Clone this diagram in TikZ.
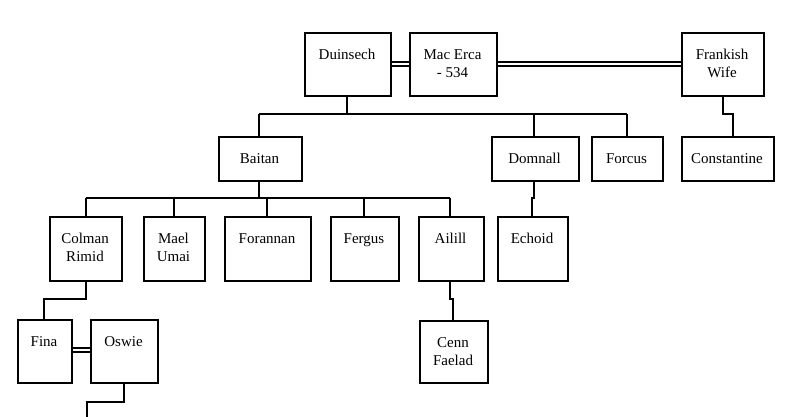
\documentclass[tikz,border=0pt]{standalone}
\usepackage{fontspec}
\setmainfont{Liberation Serif}
\tikzset{bx/.style={draw,line width=1.6pt,rectangle,inner sep=0pt},
 lab/.style={anchor=north,align=center,inner sep=0pt,font=\fontsize{15}{18}\selectfont},
 ln/.style={line width=1.6pt}}
\newcommand{\pbox}[6]{%
 \node[bx,minimum width=#4-#2,minimum height=#5-#3,anchor=north west] (#1) at (#2,#3) {};
 \node[lab] (#1t) at ({(#2+#4)/2},#3+17) {#6};}
\begin{document}
\begin{tikzpicture}[x=1pt,y=-1pt]
\useasboundingbox (0,0) rectangle (795,417);
\pbox{duin}{304}{32}{390}{95}{Duinsech}
\pbox{mac}{409}{32}{496}{95}{Mac Erca\\- 534}
\pbox{frank}{681}{32}{763}{95}{Frankish\\Wife}
\pbox{bait}{218}{136}{301}{180}{Baitan}
\pbox{domn}{491}{136}{578}{180}{Domnall}
\pbox{forc}{591}{136}{662}{180}{Forcus}
\pbox{cons}{681}{136}{773}{180}{Constantine}
\pbox{colm}{49}{216}{121}{280}{Colman\\Rimid}
\pbox{mael}{143}{216}{204}{280}{Mael\\Umai}
\pbox{fora}{224}{216}{310}{280}{Forannan}
\pbox{ferg}{330}{216}{398}{280}{Fergus}
\pbox{aili}{418}{216}{483}{280}{Ailill}
\pbox{echo}{497}{216}{567}{280}{Echoid}
\pbox{cenn}{419}{320}{487}{382}{Cenn\\Faelad}
\pbox{fina}{17}{319}{71}{382}{Fina}
\pbox{osw}{90}{319}{157}{382}{Oswie}
% marriages
\draw[line width=1.2pt] (duin.east|-0,62) -- (mac.west|-0,62) (duin.east|-0,66) -- (mac.west|-0,66);
\draw[line width=1.2pt] (mac.east|-0,62) -- (frank.west|-0,62) (mac.east|-0,66) -- (frank.west|-0,66);
\draw[line width=1.2pt] (fina.east|-0,348) -- (osw.west|-0,348) (fina.east|-0,352) -- (osw.west|-0,352);
% descent
\draw[ln] (duin.south-|347,0) -- (347,114) (259,114) -- (627,114);
\draw[ln] (bait.north-|259,0) -- (259,114) (domn.north-|534,0) -- (534,114) (forc.north-|627,0) -- (627,114);
\draw[ln] (frank.south-|723,0) -- (723,114) -- (733,114) -- (cons.north-|733,0);
\draw[ln] (bait.south-|259,0) -- (259,198) (86,198) -- (450,198);
\foreach \n/\x in {colm/86,mael/174,fora/267,ferg/364,aili/450}{\draw[ln] (\n.north-|\x,0) -- (\x,198);}
\draw[ln] (domn.south-|534,0) -- (534,198) -- (532,198) -- (echo.north-|532,0);
\draw[ln] (colm.south-|86,0) -- (86,299) -- (44,299) -- (fina.north-|44,0);
\draw[ln] (aili.south-|450,0) -- (450,299) -- (453,299) -- (cenn.north-|453,0);
\draw[ln] (osw.south-|124,0) -- (124,402) -- (87,402) -- (87,417);
\end{tikzpicture}
\end{document}
